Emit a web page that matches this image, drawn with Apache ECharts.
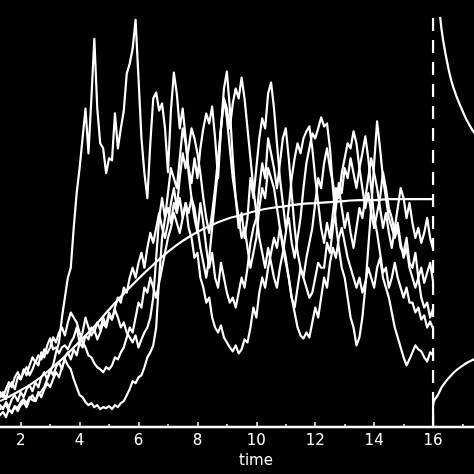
<!DOCTYPE html>
<html>
<head>
<meta charset="utf-8">
<script src="https://cdn.jsdelivr.net/npm/echarts@6/dist/echarts.min.js"></script>
<style>
html,body{margin:0;padding:0;background:#000;}
#chart{width:474px;height:474px;}
</style>
</head>
<body>
<div id="chart"></div>
<script>
// time grid of the simulated paths
var tStart = 1.3;
var tStep = 0.1;

// five stochastic trajectories, t = 1.3 ... 16.0
var pathA = [
  18, 20, 22, 17, 15, 21, 19, 25, 28, 24,
  30, 27, 26, 33, 36, 40, 48, 55, 62, 75,
  85, 110, 130, 150, 160, 200, 235, 260, 290, 320,
  275, 330, 390, 320, 285, 280, 255, 270, 268, 315,
  280, 300, 318, 355, 365, 380, 409, 350, 290, 255,
  230, 285, 330, 336, 318, 325, 300, 256, 318, 356,
  335, 300, 320, 290, 255, 230, 210, 195, 225, 205,
  180, 160, 175, 150, 140, 165, 150, 135, 125, 130,
  120, 135, 150, 140, 160, 185, 200, 210, 240, 265,
  250, 290, 275, 260, 240, 265, 290, 300, 270, 235,
  200, 175, 160, 150, 140, 130, 135, 150, 165, 160,
  160, 185, 175, 200, 220, 245, 235, 260, 250, 270,
  255, 240, 260, 275, 292, 270, 240, 210, 195, 175,
  155, 160, 140, 150, 165, 150, 140, 130, 140, 125,
  125, 115, 120, 108, 112, 100, 106, 99
];
var pathB = [
  30, 35, 28, 40, 45, 38, 50, 48, 55, 60,
  52, 58, 66, 62, 75, 70, 82, 89, 78, 80,
  74, 80, 82, 78, 85, 90, 100, 85, 95, 110,
  100, 92, 98, 88, 95, 105, 100, 112, 108, 118,
  110, 100, 105, 95, 90, 85, 92, 80, 88, 95,
  100, 110, 130, 170, 210, 230, 210, 235, 260, 250,
  240, 270, 300, 285, 260, 245, 270, 250, 280, 300,
  315, 305, 322, 290, 250, 300, 340, 357, 320, 270,
  230, 200, 215, 190, 210, 250, 230, 260, 290, 310,
  300, 335, 346, 320, 285, 250, 225, 200, 210, 185,
  170, 190, 210, 240, 265, 280, 295, 290, 300, 311,
  302, 305, 280, 240, 205, 180, 160, 150, 130, 110,
  100, 82, 90, 110, 140, 180, 220, 265, 307, 280,
  250, 230, 210, 200, 190, 200, 180, 175, 190, 165,
  160, 175, 150, 160, 145, 155, 165, 146
];
var pathC = [
  22, 18, 25, 20, 28, 32, 26, 35, 30, 38,
  42, 36, 45, 40, 50, 55, 48, 58, 52, 60,
  65, 58, 70, 75, 68, 78, 72, 85, 80, 92,
  88, 100, 95, 105, 98, 110, 102, 115, 108, 120,
  130, 125, 140, 135, 150, 160, 150, 165, 175, 160,
  180, 195, 185, 200, 215, 200, 190, 205, 225, 240,
  220, 250, 275, 260, 280, 300, 290, 275, 255, 230,
  210, 195, 215, 240, 270, 300, 330, 320, 300, 325,
  340, 330, 351, 330, 300, 270, 240, 215, 190, 175,
  160, 180, 165, 150, 140, 160, 175, 195, 220, 250,
  270, 285, 275, 290, 297, 302, 280, 250, 225, 200,
  185, 205, 190, 215, 240, 230, 255, 270, 285, 280,
  297, 285, 260, 240, 220, 235, 215, 200, 215, 230,
  256, 240, 220, 210, 195, 205, 185, 170, 180, 160,
  150, 140, 150, 130, 120, 125, 110, 119
];
var pathD = [
  12, 15, 10, 18, 14, 20, 16, 22, 25, 20,
  28, 32, 26, 35, 30, 38, 44, 40, 48, 55,
  50, 60, 68, 62, 58, 48, 40, 32, 30, 25,
  22, 24, 20, 22, 18, 20, 19, 21, 18, 22,
  20, 24, 26, 32, 38, 46, 44, 50, 52, 60,
  70, 75, 82, 100, 150, 190, 210, 220, 205, 225,
  215, 230, 210, 225, 200, 190, 170, 175, 150, 140,
  125, 130, 110, 100, 95, 102, 90, 85, 80, 76,
  82, 74, 78, 88, 85, 100, 120, 110, 135, 150,
  140, 160, 175, 190, 180, 200, 185, 170, 150, 130,
  115, 100, 92, 89, 95, 90, 105, 120, 110, 130,
  150, 140, 165, 180, 170, 190, 200, 185, 170, 160,
  150, 140, 150, 135, 145, 160, 150, 140, 160, 170,
  150, 140, 130, 115, 100, 90, 80, 70, 62, 68,
  75, 82, 78, 76, 70, 66, 75, 72
];
var pathE = [
  35, 30, 38, 45, 40, 50, 55, 48, 58, 52,
  62, 70, 65, 72, 68, 78, 74, 80, 90, 85,
  95, 100, 92, 105, 115, 110, 105, 95, 85, 80,
  72, 70, 64, 60, 58, 55, 60, 58, 62, 70,
  68, 75, 80, 90, 100, 95, 110, 125, 120, 140,
  135, 150, 140, 130, 145, 160, 175, 190, 200, 215,
  205, 195, 210, 225, 215, 230, 220, 200, 180, 165,
  150, 170, 200, 230, 260, 300, 330, 310, 280, 250,
  230, 210, 190, 200, 180, 160, 175, 190, 220, 240,
  230, 260, 250, 240, 220, 200, 180, 165, 150, 130,
  120, 140, 160, 150, 170, 185, 200, 225, 250, 240,
  265, 280, 260, 245, 225, 240, 220, 200, 215, 195,
  180, 200, 220, 210, 230, 250, 270, 255, 240, 220,
  200, 215, 195, 180, 200, 220, 240, 230, 210, 225,
  205, 190, 200, 185, 195, 210, 190, 179
];

// deterministic (logistic-looking) mean curve
var meanT = [1.3, 1.5, 2.0, 2.5, 3.0, 3.5, 4.0, 4.5, 5.0, 5.5, 6.0, 6.5, 7.0, 7.5, 8.0, 8.5, 9.0, 9.5, 10.0, 10.5, 11.0, 11.5, 12.0, 12.5, 13.0, 13.5, 14.0, 14.5, 15.0, 15.5, 16.0];
var meanV = [26, 29, 37, 46, 58, 71, 86, 101, 118, 134, 149, 163, 176, 187, 196, 203, 209, 213, 217, 220, 222, 224, 225, 226, 227, 228, 228, 229, 229, 229, 229];

// distribution at t = 16 drawn sideways (upper and lower branch)
var densUpT = [16.24, 16.34, 16.51, 16.68, 16.98, 17.26, 17.6];
var densUpV = [412, 389, 362, 342, 319, 302, 288];
var densLoT = [16.0, 16.0, 16.03, 16.14, 16.34, 16.68, 17.02, 17.32, 17.6];
var densLoV = [0, 20, 26, 31, 42, 54, 62, 67, 71];

// vertical dashed marker at t = 16
var markerT = 16;
var markerV = [0, 411];

var majorTicks = [2, 4, 6, 8, 10, 12, 14, 16];
var minorTicks = [3, 5, 7, 9, 11, 13, 15, 17];

function toPairs(vals) {
  var out = [];
  for (var i = 0; i < vals.length; i++) {
    out.push([+(tStart + i * tStep).toFixed(2), vals[i]]);
  }
  return out;
}
function zipPairs(xs, ys) {
  var out = [];
  for (var i = 0; i < xs.length; i++) out.push([xs[i], ys[i]]);
  return out;
}

var white = '#ffffff';
var font = 'DejaVu Sans, Arial, sans-serif';
function pathSeries(vals) {
  return {
    type: 'line', data: toPairs(vals), showSymbol: false, symbol: 'none',
    lineStyle: { color: white, width: 2.2, join: 'round', cap: 'round' }, silent: true, animation: false
  };
}

var chart = echarts.init(document.getElementById('chart'), null, { renderer: 'canvas' });
var xMin = 1.297, xMax = 17.39;
chart.setOption({
  backgroundColor: '#000',
  animation: false,
  grid: { left: 0, right: 0, top: 0, bottom: 45, containLabel: false },
  xAxis: [{
    type: 'value', min: xMin, max: xMax,
    axisLine: { lineStyle: { color: white, width: 2.4 } },
    axisTick: { inside: true, length: 5, customValues: majorTicks, lineStyle: { color: white, width: 1.5 } },
    axisLabel: { customValues: majorTicks, color: white, fontSize: 15, margin: 7, fontFamily: font },
    splitLine: { show: false },
    name: 'time', nameLocation: 'middle', nameGap: 27,
    nameTextStyle: { color: white, fontSize: 15, fontFamily: font, padding: [0, 0, 0, 38] }
  }, {
    type: 'value', min: xMin, max: xMax, position: 'bottom',
    axisLine: { show: false },
    axisTick: { inside: true, length: 3, customValues: minorTicks, lineStyle: { color: white, width: 1.5 } },
    axisLabel: { show: false },
    splitLine: { show: false }
  }],
  yAxis: { type: 'value', min: 0, max: 429, show: false, splitLine: { show: false } },
  series: [
    pathSeries(pathA), pathSeries(pathB), pathSeries(pathC), pathSeries(pathD), pathSeries(pathE),
    { type: 'line', data: zipPairs(meanT, meanV), smooth: true, showSymbol: false, symbol: 'none',
      lineStyle: { color: white, width: 2.2 } },
    { type: 'line', data: zipPairs(densUpT, densUpV), smooth: true, showSymbol: false, symbol: 'none',
      lineStyle: { color: white, width: 2.2 } },
    { type: 'line', data: zipPairs(densLoT, densLoV), smooth: true, showSymbol: false, symbol: 'none',
      lineStyle: { color: white, width: 2.2 } },
    { type: 'line', data: [[markerT, markerV[0]], [markerT, markerV[1]]], showSymbol: false, symbol: 'none',
      lineStyle: { color: white, width: 2.2, type: [13, 9] } }
  ]
});
</script>
</body>
</html>
